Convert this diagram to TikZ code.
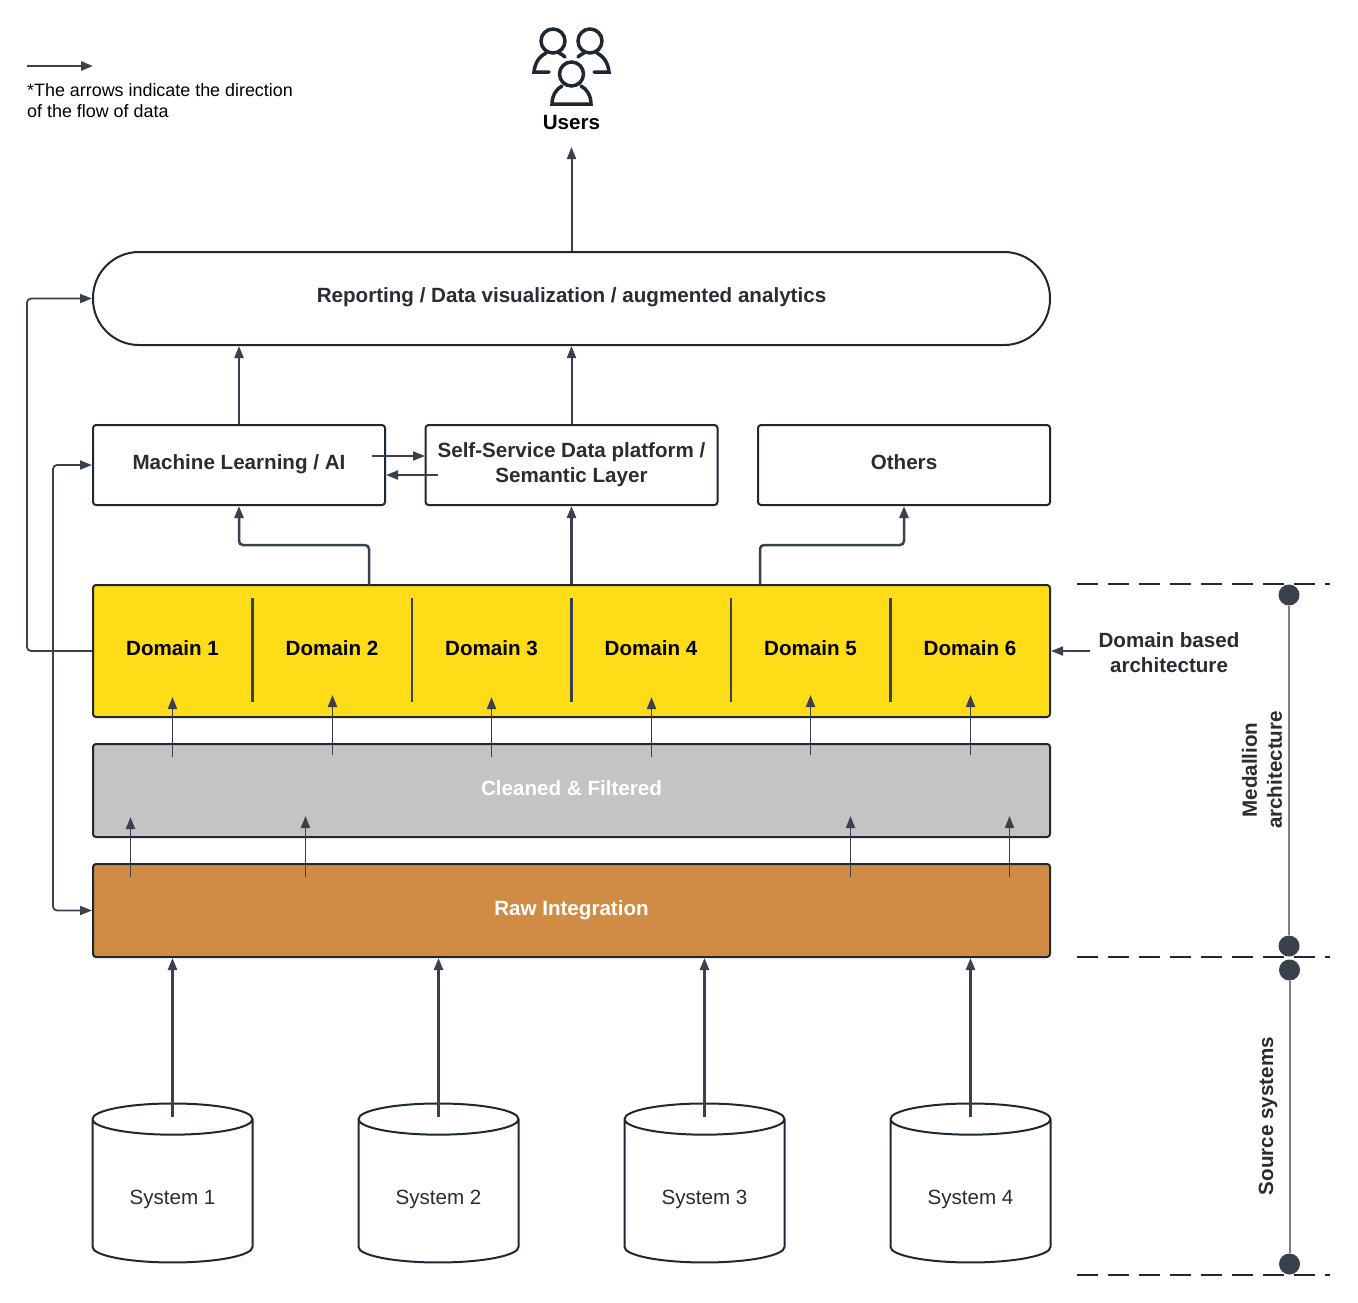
\documentclass[tikz,border=0pt]{standalone}
\usepackage{fontspec}
\setmainfont{Liberation Sans}
\usetikzlibrary{shapes.geometric, arrows.meta}
\definecolor{inkline}{HTML}{1F2733}
\definecolor{arrowgrey}{HTML}{3A414C}
\definecolor{inktext}{HTML}{282C33}
\definecolor{domainyellow}{HTML}{FFDC18}
\definecolor{cleangrey}{HTML}{C4C4C4}
\definecolor{raworange}{HTML}{D08B45}
\newcommand{\bigtext}{\fontsize{20.6}{25}\selectfont}
\tikzstyle{boxnode} = [rectangle, rounded corners=3pt, line width=2pt, draw=inkline, text=inktext, align=center, font=\bigtext\bfseries]
\tikzstyle{layerbox} = [boxnode, minimum width=957pt, minimum height=93pt]
\tikzstyle{serving} = [boxnode, minimum width=292pt, minimum height=80pt]
\tikzstyle{domcell} = [text=black, font=\bigtext\bfseries]
\tikzstyle{sysdb} = [cylinder, shape border rotate=90, aspect=0.337, minimum width=160pt, minimum height=159pt, line width=2pt, draw=inkline, text=inktext, text height=27pt, font=\bigtext]
\tikzstyle{sidetext} = [text=inktext, align=center, font=\bigtext\bfseries]
\tikzstyle{dotmark} = [circle, fill=arrowgrey, minimum size=21pt, inner sep=0pt]
\tikzstyle{arrow} = [line width=1.8pt, draw=arrowgrey, -{Stealth[length=12pt,width=9pt,inset=0pt]}]
\tikzstyle{midarrow} = [arrow, line width=2pt]
\tikzstyle{bigarrow} = [arrow, line width=2.5pt]
\tikzstyle{divider} = [line width=2.5pt, draw=arrowgrey]
\tikzstyle{levelline} = [line width=1.6pt, draw=inkline, dash pattern=on 21pt off 10pt]
\tikzstyle{spanline} = [line width=2pt, draw=gray]
\tikzstyle{person} = [line width=3.5pt, draw=inkline, line cap=round]

\begin{document}
\begin{tikzpicture}[x=1pt, y=-1pt, node distance=159.5pt]
\useasboundingbox (0,0) rectangle (1358,1302);

% legend
\coordinate (legstart) at (27,66);
\coordinate (legend) at (93,66);
\draw [arrow, line width=2.5pt] (legstart) -- (legend);
\node (legtext) [anchor=north west, inner sep=0pt, align=left, text=black, font=\fontsize{17.9}{21.2}\selectfont] at (27,83.5) {*The arrows indicate the direction\\of the flow of data};

% users icon
\draw [person] (553,41) circle (12);
\draw [person] (590,41) circle (12);
\draw [person] (571.5,74) circle (12);
\draw [person] (549,72) -- (534,72) .. controls (535,62) and (540,56) .. (546,53);
\draw [person] (559,53) .. controls (561,54) and (563,55) .. (565,57);
\draw [person] (594,72) -- (609,72) .. controls (608,62) and (603,56) .. (597,53);
\draw [person] (584,53) .. controls (582,54) and (580,55) .. (578,57);
\draw [person] (562,86) .. controls (556,89) and (552,96) .. (552,104) -- (591,104) .. controls (591,96) and (587,89) .. (581,86);
\node (users) [text=black, font=\bigtext\bfseries] at (571.5,123) {Users};
\coordinate (usertip) at (571.5,147);

% top boxes
\node (report) [boxnode, rounded corners=46pt, minimum width=957pt, minimum height=93pt, text depth=7pt] at (571.5,298.5) {Reporting / Data visualization / augmented analytics};
\node (ml) [serving, text depth=5.5pt] at (239,465) {Machine Learning / AI};
\node (self) [serving, right of=ml, node distance=332.5pt] {Self-Service Data platform /\\Semantic Layer};
\node (others) [serving, right of=self, node distance=332.5pt, text depth=6pt] {Others};

% layers
\node (dombar) [layerbox, fill=domainyellow, minimum height=132pt] at (571.5,651) {};
\node (clean) [layerbox, fill=cleangrey, text=white, text depth=4.5pt] at (571.5,790.5) {Cleaned \& Filtered};
\node (raw) [layerbox, fill=raworange, text=white] at (571.5,910.5) {Raw Integration};

% domains
\node (dom1) [domcell] at (172.5,648) {Domain 1};
\node (dom2) [domcell, right of=dom1] {Domain 2};
\node (dom3) [domcell, right of=dom2] {Domain 3};
\node (dom4) [domcell, right of=dom3] {Domain 4};
\node (dom5) [domcell, right of=dom4] {Domain 5};
\node (dom6) [domcell, right of=dom5] {Domain 6};

\coordinate (divtop1) at (252.5,598);
\coordinate (divbot1) at (252.5,702);
\coordinate (divtop2) at (412,598);
\coordinate (divbot2) at (412,702);
\coordinate (divtop3) at (571.5,598);
\coordinate (divbot3) at (571.5,702);
\coordinate (divtop4) at (731,598);
\coordinate (divbot4) at (731,702);
\coordinate (divtop5) at (890.5,598);
\coordinate (divbot5) at (890.5,702);
\draw [divider] (divtop1) -- (divbot1);
\draw [divider] (divtop2) -- (divbot2);
\draw [divider] (divtop3) -- (divbot3);
\draw [divider] (divtop4) -- (divbot4);
\draw [divider] (divtop5) -- (divbot5);

% systems
\node (sys1) [sysdb] at (172.5,1193.5) {System 1};
\node (sys2) [sysdb, right of=sys1, node distance=266pt] {System 2};
\node (sys3) [sysdb, right of=sys2, node distance=266pt] {System 3};
\node (sys4) [sysdb, right of=sys3, node distance=266pt] {System 4};

% arrows up to the users
\draw [midarrow] (report.north) -- (usertip);
\draw [midarrow] (ml.north) -- (ml.north |- report.south);
\draw [midarrow] (self.north) -- (report.south);

% between ml and self
\coordinate (mlout) at (372,456);
\coordinate (selfin) at (425,456);
\coordinate (selfout) at (438,475);
\coordinate (mlin) at (386,475);
\draw [arrow] (mlout) -- (selfin);
\draw [arrow] (selfout) -- (mlin);

% from the domains to the top boxes
\coordinate (barleft) at (369,585);
\coordinate (barright) at (760,585);
\draw [bigarrow, rounded corners=4pt] (barleft) -- (369,545) -- (239,545) -- (ml.south);
\draw [bigarrow] (dombar.north) -- (self.south);
\draw [bigarrow, rounded corners=4pt] (barright) -- (760,545) -- (904,545) -- (others.south);

% left side lines
\draw [arrow, rounded corners=4pt] (dombar.west) -- (27,651) -- (27,298.5) -- (report.west);
\draw [arrow, {Stealth[length=12pt,width=9pt,inset=0pt]}-{Stealth[length=12pt,width=9pt,inset=0pt]}, rounded corners=4pt] (ml.west) -- (53,465) -- (53,910.5) -- (raw.west);

% clean to domains
\coordinate (cf1) at (172.5,757);
\coordinate (cf2) at (332.5,755);
\coordinate (cf3) at (491.5,757);
\coordinate (cf4) at (651.5,757);
\coordinate (cf5) at (810.5,755);
\coordinate (cf6) at (970.5,755);
\coordinate (dt1) at (172.5,697);
\coordinate (dt2) at (332.5,695);
\coordinate (dt3) at (491.5,697);
\coordinate (dt4) at (651.5,697);
\coordinate (dt5) at (810.5,695);
\coordinate (dt6) at (970.5,695);
\draw [arrow] (cf1) -- (dt1);
\draw [arrow] (cf2) -- (dt2);
\draw [arrow] (cf3) -- (dt3);
\draw [arrow] (cf4) -- (dt4);
\draw [arrow] (cf5) -- (dt5);
\draw [arrow] (cf6) -- (dt6);

% raw to clean
\coordinate (rw1) at (130.5,877);
\coordinate (rw2) at (305.5,877);
\coordinate (rw3) at (850.5,877);
\coordinate (rw4) at (1009.5,877);
\coordinate (ct1) at (130.5,817);
\coordinate (ct2) at (305.5,816);
\coordinate (ct3) at (850.5,816);
\coordinate (ct4) at (1009.5,816);
\draw [arrow] (rw1) -- (ct1);
\draw [arrow] (rw2) -- (ct2);
\draw [arrow] (rw3) -- (ct3);
\draw [arrow] (rw4) -- (ct4);

% systems to raw
\coordinate (st1) at (172.5,1117);
\coordinate (st2) at (438.5,1117);
\coordinate (st3) at (704.5,1117);
\coordinate (st4) at (970.5,1117);
\draw [bigarrow] (st1) -- (st1 |- raw.south);
\draw [bigarrow] (st2) -- (st2 |- raw.south);
\draw [bigarrow] (st3) -- (st3 |- raw.south);
\draw [bigarrow] (st4) -- (st4 |- raw.south);

% right side
\node (domlabel) [sidetext] at (1169,653) {Domain based\\architecture};
\coordinate (domfrom) at (1090,651);
\draw [arrow] (domfrom) -- (dombar.east);

\coordinate (lvlaa) at (1077,584);
\coordinate (lvlab) at (1330,584);
\coordinate (lvlba) at (1077,957);
\coordinate (lvlbb) at (1330,957);
\coordinate (lvlca) at (1077,1275);
\coordinate (lvlcb) at (1330,1275);
\draw [levelline] (lvlaa) -- (lvlab);
\draw [levelline] (lvlba) -- (lvlbb);
\draw [levelline] (lvlca) -- (lvlcb);

\node (dota) [dotmark] at (1289,595) {};
\node (dotb) [dotmark] at (1289,946) {};
\node (dotc) [dotmark] at (1289.5,970) {};
\node (dotd) [dotmark] at (1289.5,1264) {};
\draw [spanline] (dota) -- (dotb);
\draw [spanline] (dotc) -- (dotd);
\node (medal) [sidetext, rotate=90] at (1262,770) {Medallion\\architecture};
\node (source) [sidetext, rotate=90] at (1268,1116) {Source systems};

\end{tikzpicture}
\end{document}
